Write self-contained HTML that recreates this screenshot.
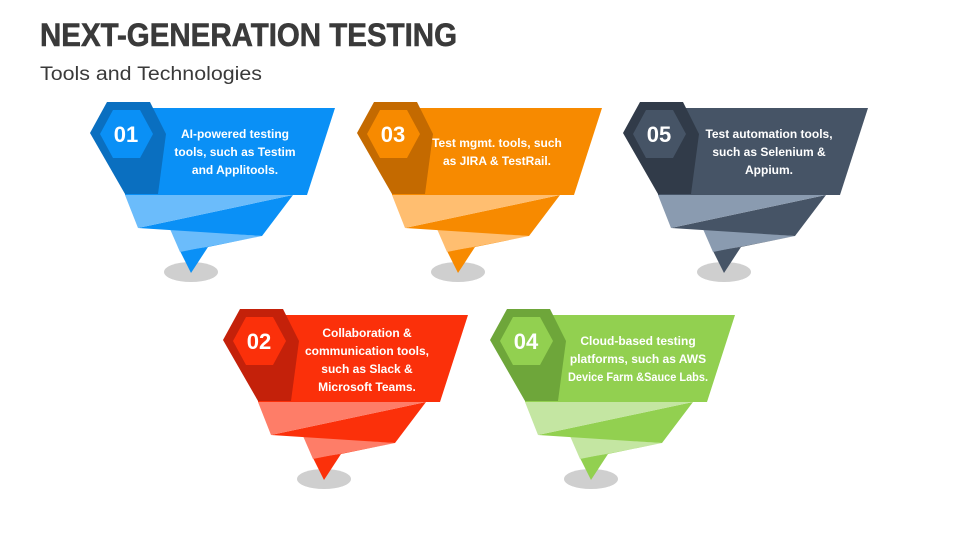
<!DOCTYPE html>
<html><head><meta charset="utf-8"><style>
html,body{margin:0;padding:0;background:#fff;}
svg{display:block;font-family:"Liberation Sans",sans-serif;}
</style></head><body>
<svg width="960" height="540" viewBox="0 0 960 540" xmlns="http://www.w3.org/2000/svg">
<text x="40" y="46" font-size="32" font-weight="bold" fill="#3a3a3a" stroke="#3a3a3a" stroke-width="0.6" textLength="417" lengthAdjust="spacingAndGlyphs">NEXT-GENERATION TESTING</text>
<text x="40" y="80" font-size="19" fill="#3a3a3a" textLength="222" lengthAdjust="spacingAndGlyphs">Tools and Technologies</text>

<g>
  <ellipse cx="191" cy="272" rx="27" ry="10" fill="#cfcfcf"/>
  <polygon points="180,251 208,247 191,273" fill="#0a90f6"/>
  <polygon points="170,229 262,236 180,252" fill="#6bbcfb"/>
  <polygon points="180,252 262,236 208,247" fill="#0a90f6"/>
  <polygon points="293,195 262,236 138,228" fill="#0a90f6"/>
  <polygon points="125,195 293,195 138,228" fill="#6bbcfb"/>
  <polygon points="125,108 335,108 307,195 125,195" fill="#0a90f6"/>
  <polygon points="90,133 107,102 150,102 166,134 158,194 125,194" fill="#0a6fc0"/>
  <polygon points="100,134 113,110 140,110 153,134 140,158 113,158" fill="#0a90f6"/>
  <text x="126" y="142" font-size="22" font-weight="bold" fill="#fff" text-anchor="middle">01</text>
  <g font-size="12" font-weight="bold" fill="#fff" text-anchor="middle">
    <text x="235" y="138">AI-powered testing</text>
    <text x="235" y="156">tools, such as Testim</text>
    <text x="235" y="174">and Applitools.</text>
  </g>
</g>

<g transform="translate(267,0)">
  <ellipse cx="191" cy="272" rx="27" ry="10" fill="#cfcfcf"/>
  <polygon points="180,251 208,247 191,273" fill="#f78a00"/>
  <polygon points="170,229 262,236 180,252" fill="#ffbe70"/>
  <polygon points="180,252 262,236 208,247" fill="#f78a00"/>
  <polygon points="293,195 262,236 138,228" fill="#f78a00"/>
  <polygon points="125,195 293,195 138,228" fill="#ffbe70"/>
  <polygon points="125,108 335,108 307,195 125,195" fill="#f78a00"/>
  <polygon points="90,133 107,102 150,102 166,134 158,194 125,194" fill="#c46a00"/>
  <polygon points="100,134 113,110 140,110 153,134 140,158 113,158" fill="#f78a00"/>
  <text x="126" y="142" font-size="22" font-weight="bold" fill="#fff" text-anchor="middle">03</text>
  <g font-size="12" font-weight="bold" fill="#fff" text-anchor="middle">
    <text x="230" y="147">Test mgmt. tools, such</text>
    <text x="230" y="165">as JIRA &amp; TestRail.</text>
  </g>
</g>

<g transform="translate(533,0)">
  <ellipse cx="191" cy="272" rx="27" ry="10" fill="#cfcfcf"/>
  <polygon points="180,251 208,247 191,273" fill="#465466"/>
  <polygon points="170,229 262,236 180,252" fill="#8a9bb0"/>
  <polygon points="180,252 262,236 208,247" fill="#465466"/>
  <polygon points="293,195 262,236 138,228" fill="#465466"/>
  <polygon points="125,195 293,195 138,228" fill="#8a9bb0"/>
  <polygon points="125,108 335,108 307,195 125,195" fill="#465466"/>
  <polygon points="90,133 107,102 150,102 166,134 158,194 125,194" fill="#313b49"/>
  <polygon points="100,134 113,110 140,110 153,134 140,158 113,158" fill="#465466"/>
  <text x="126" y="142" font-size="22" font-weight="bold" fill="#fff" text-anchor="middle">05</text>
  <g font-size="12" font-weight="bold" fill="#fff" text-anchor="middle">
    <text x="236" y="138">Test automation tools,</text>
    <text x="236" y="156">such as Selenium &amp;</text>
    <text x="236" y="174">Appium.</text>
  </g>
</g>

<g transform="translate(133,207)">
  <ellipse cx="191" cy="272" rx="27" ry="10" fill="#cfcfcf"/>
  <polygon points="180,251 208,247 191,273" fill="#fb300a"/>
  <polygon points="170,229 262,236 180,252" fill="#fe7d68"/>
  <polygon points="180,252 262,236 208,247" fill="#fb300a"/>
  <polygon points="293,195 262,236 138,228" fill="#fb300a"/>
  <polygon points="125,195 293,195 138,228" fill="#fe7d68"/>
  <polygon points="125,108 335,108 307,195 125,195" fill="#fb300a"/>
  <polygon points="90,133 107,102 150,102 166,134 158,194 125,194" fill="#c4210a"/>
  <polygon points="100,134 113,110 140,110 153,134 140,158 113,158" fill="#fb300a"/>
  <text x="126" y="142" font-size="22" font-weight="bold" fill="#fff" text-anchor="middle">02</text>
  <g font-size="12" font-weight="bold" fill="#fff" text-anchor="middle">
    <text x="234" y="130">Collaboration &amp;</text>
    <text x="234" y="148">communication tools,</text>
    <text x="234" y="166">such as Slack &amp;</text>
    <text x="234" y="184">Microsoft Teams.</text>
  </g>
</g>

<g transform="translate(400,207)">
  <ellipse cx="191" cy="272" rx="27" ry="10" fill="#cfcfcf"/>
  <polygon points="180,251 208,247 191,273" fill="#92d050"/>
  <polygon points="170,229 262,236 180,252" fill="#c4e6a2"/>
  <polygon points="180,252 262,236 208,247" fill="#92d050"/>
  <polygon points="293,195 262,236 138,228" fill="#92d050"/>
  <polygon points="125,195 293,195 138,228" fill="#c4e6a2"/>
  <polygon points="125,108 335,108 307,195 125,195" fill="#92d050"/>
  <polygon points="90,133 107,102 150,102 166,134 158,194 125,194" fill="#6ea63a"/>
  <polygon points="100,134 113,110 140,110 153,134 140,158 113,158" fill="#92d050"/>
  <text x="126" y="142" font-size="22" font-weight="bold" fill="#fff" text-anchor="middle">04</text>
  <g font-size="12" font-weight="bold" fill="#fff" text-anchor="middle">
    <text x="238" y="138">Cloud-based testing</text>
    <text x="238" y="156">platforms, such as AWS</text>
    <text x="238" y="174" textLength="140" lengthAdjust="spacingAndGlyphs">Device Farm &amp;Sauce Labs.</text>
  </g>
</g>
</svg>
</body></html>
